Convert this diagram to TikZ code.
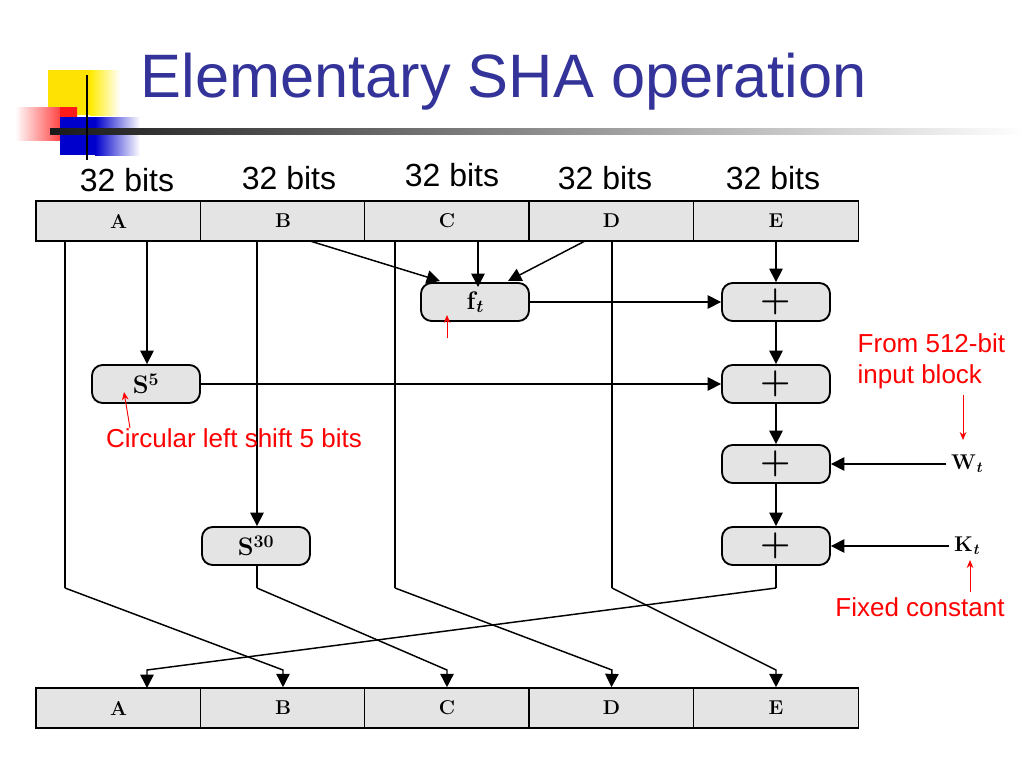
\documentclass[tikz,border=0pt]{standalone}
\usepackage{fontspec}
\setsansfont{Liberation Sans}
\usetikzlibrary{arrows.meta}
\definecolor{ttl}{RGB}{51,51,153}
\definecolor{cellg}{RGB}{228,228,228}
\newcommand{\subit}[1]{\textsubscript{\textbf{\itshape #1}}}
\begin{document}
\begin{tikzpicture}[x=0.75pt,y=-0.75pt,
  cell/.style={draw,fill=cellg,line width=1.2pt,minimum width=123.75pt,minimum height=30pt,inner sep=0pt,font=\bfseries\fontsize{15}{18}\selectfont},
  op/.style={draw,fill=cellg,line width=1.4pt,rounded corners=8pt,minimum width=81pt,minimum height=28.5pt,inner sep=0pt,font=\bfseries\fontsize{19}{22}\selectfont},
  bits/.style={font=\sffamily\fontsize{24}{28}\selectfont},
  red/.style={text=red,font=\sffamily\fontsize{19.5}{23}\selectfont,align=left},
  arr/.style={line width=1.1pt,-{Triangle[length=10pt,width=10pt]}},
  ln/.style={line width=1.1pt},
  rarr/.style={draw=red,line width=0.7pt,-{Stealth[length=6pt,width=5pt]}}]
\useasboundingbox (0,0) rectangle (1024,768);
% logo
\fill[yellow!85!orange] (48,70) rectangle (90,115);
\shade[left color=yellow!85!orange,right color=white] (90,70) rectangle (120,115);
\shade[left color=white,right color=red] (15,107) rectangle (77,140);
\shade[left color=blue!80!black,right color=white] (95,117) rectangle (140,155);
\fill[blue!80!black] (60,117) rectangle (95,155);
\fill[red!90] (60,107) rectangle (77,117);
\shade[left color=black!90,right color=white] (50,128) rectangle (1024,134);
\draw[line width=2pt] (87,75) -- (87,160);
\node[text=ttl,font=\sffamily\fontsize{46}{50}\selectfont,anchor=west] (title) at (136,82) {Elementary SHA operation};
% bits labels
\node[bits] (b1) at (127,180) {32 bits};
\node[bits] (b2) at (289,178) {32 bits};
\node[bits] (b3) at (452,175) {32 bits};
\node[bits] (b4) at (605,178) {32 bits};
\node[bits] (b5) at (773,178) {32 bits};
% registers
\foreach \n/\x in {A/118.5,B/283,C/447,D/611.5,E/776}{
  \node[cell] (t\n) at (\x,221) {\n};
  \node[cell] (u\n) at (\x,708) {\n};
}
% op nodes
\node[op] (ft) at (475,302) {f\subit{t}};
\node[op] (s5) at (146,384) {S\textsuperscript{5}};
\node[op] (s30) at (256,546) {S\textsuperscript{30}};
\node[op,font=\bfseries\fontsize{26}{28}\selectfont] (p1) at (776,302) {+};
\node[op,font=\bfseries\fontsize{26}{28}\selectfont] (p2) at (776,384) {+};
\node[op,font=\bfseries\fontsize{26}{28}\selectfont] (p3) at (776,464) {+};
\node[op,font=\bfseries\fontsize{26}{28}\selectfont] (p4) at (776,546) {+};
\node[font=\bfseries\fontsize{16}{18}\selectfont] (wt) at (967,464) {W\subit{t}};
\node[font=\bfseries\fontsize{16}{18}\selectfont] (kt) at (967,546) {K\subit{t}};
% coordinates
\coordinate (a1) at (65,241); \coordinate (a2) at (65,588);
\coordinate (c1) at (395,241); \coordinate (c2) at (395,588);
\coordinate (d1) at (612,241); \coordinate (d2) at (612,588);
\coordinate (s2) at (257,588); \coordinate (p4b) at (776,588);
\coordinate (uAin) at (147,688);
% connectors
\draw[arr] (147,241) -- (s5.north -| 147,0);
\draw[arr] (257,241) -- (s30.north -| 257,0);
\draw[arr] (310,241) -- (440,281);
\draw[arr] (478,241) -- (478,287);
\draw[arr] (585,241) -- (508,281);
\draw[arr] (776,241) -- (p1.north);
\draw[arr] (ft.east) -- (p1.west);
\draw[arr] (s5.east) -- (p2.west);
\draw[arr] (p1.south) -- (p2.north);
\draw[arr] (p2.south) -- (p3.north);
\draw[arr] (p3.south) -- (p4.north);
\draw[arr] (wt.west) -- (p3.east);
\draw[arr] (kt.west) -- (p4.east);
\draw[ln] (a1) -- (a2);
\draw[arr] (a2) -- (283,670) -- (uB.north);
\draw[ln] (s30.south -| 257,0) -- (s2);
\draw[arr] (s2) -- (447,670) -- (uC.north);
\draw[ln] (c1) -- (c2);
\draw[arr] (c2) -- (612,670) -- (uD.north);
\draw[ln] (d1) -- (d2);
\draw[arr] (d2) -- (776,670) -- (uE.north);
\draw[ln] (p4.south) -- (p4b);
\draw[arr] (p4b) -- (147,670) -- (uAin);
% red annotations
\node[red,anchor=west] (fr) at (853,343) {From 512-bit};
\node[red,anchor=west] (ib) at (853,377) {input block};
\node[red] (fc) at (920,607) {Fixed constant};
\node[red] (cl) at (234,438) {Circular left shift 5 bits};
\coordinate (r1) at (963,395); \coordinate (r2) at (963,440);
\draw[rarr] (r1) -- (r2);
\coordinate (r4) at (970,592);
\draw[rarr] (r4) -- (970,560);
\draw[rarr] (130,428) -- (124,392);
\coordinate (r3) at (447,338);
\draw[rarr] (r3) -- (447,315);
\end{tikzpicture}
\end{document}
